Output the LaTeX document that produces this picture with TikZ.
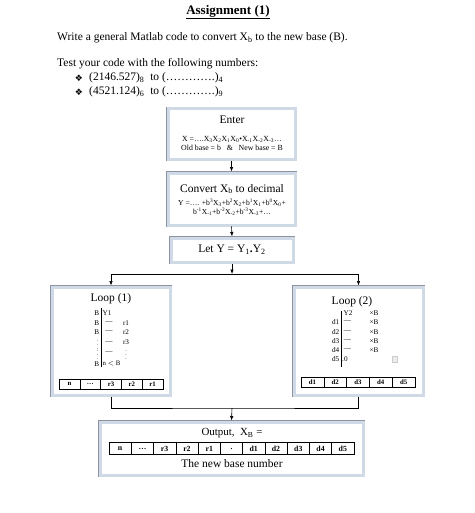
\documentclass[tikz,border=0pt]{standalone}
\usepackage{fontspec}
\setmainfont{Liberation Serif}
\newfontfamily\symfont{DejaVu Sans}
\usetikzlibrary{arrows.meta}
\definecolor{frameC}{RGB}{208,218,230}
\definecolor{frameD}{RGB}{140,148,162}
\newcommand{\fs}[1]{\fontsize{#1}{#1}\selectfont}
\tikzset{
  frame/.style={draw=frameC, line width=3pt, fill=white,
    preaction={draw=frameD, line width=4pt}, inner sep=0pt},
  conn/.style={line width=0.6pt},
  arr/.style={conn, -{Latex[length=4.5pt,width=3.5pt]}},
  cell/.style={draw, line width=0.6pt, inner sep=0pt, minimum height=10pt,
    font=\bfseries\fs{6.8}},
  ocell/.style={draw, line width=0.6pt, inner sep=0pt, minimum height=12.5pt,
    minimum width=22.27pt, font=\bfseries\fs{7.8}},
  txt/.style={inner sep=0pt},
  big/.style={txt, font=\fs{11.5}},
  small/.style={txt, font=\fs{7.8}},
  tiny/.style={txt, font=\fs{7.6}},
  row/.style={txt, font=\fs{7.2}},
  vd/.style={txt, font=\fs{5.5}},
}
\begin{document}
\begin{tikzpicture}[x=1pt,y=-1pt]
\useasboundingbox (0,0) rectangle (474,513);
% header
\node[txt, font=\bfseries\fs{13}] (title) at (228,12) {\underline{Assignment (1)}};
\node[big, anchor=west] (l1) at (57,38) {Write a general Matlab code to convert X\textsubscript{b} to the new base (B).};
\node[big, anchor=west] (l2) at (57,64) {Test your code with the following numbers:};
\node[txt, font=\symfont\fs{9}] (b1) at (79,78) {❖};
\node[big, anchor=west] (l3) at (89,78) {(2146.527)\textsubscript{8}\ \ to (………….)\textsubscript{4}};
\node[txt, font=\symfont\fs{9}] (b2) at (79,92) {❖};
\node[big, anchor=west] (l4) at (89,92) {(4521.124)\textsubscript{6}\ \ to (………….)\textsubscript{9}};

% boxes
\node[frame, minimum width=127pt, minimum height=50pt] (enter) at (231.5,134) {};
\node[frame, minimum width=127pt, minimum height=52pt] (conv) at (231.5,199) {};
\node[frame, minimum width=122pt, minimum height=24pt] (let) at (232,250) {};
\node[frame, minimum width=118pt, minimum height=108pt] (loopa) at (111,341) {};
\node[frame, minimum width=129pt, minimum height=108pt] (loopb) at (358.5,341) {};
\node[frame, minimum width=263pt, minimum height=53pt] (out) at (231.5,448.5) {};

% Enter texts
\node[big] (et) at (232,120) {Enter};
\node[small] (ex) at (232,139) {X =….X\textsubscript{3}X\textsubscript{2}X\textsubscript{1}X\textsubscript{0}•X\textsubscript{-1}X\textsubscript{-2}X\textsubscript{-3}…};
\node[small] (eb) at (232,148) {Old base = b\ \ \ \&\ \ \ New base = B};

% Convert texts
\node[big] (ct) at (232,189) {Convert X\textsubscript{b} to decimal};
\node[tiny] (cy) at (232,202.5) {Y =…. +b\textsuperscript{3}X\textsubscript{3}+b\textsuperscript{2}X\textsubscript{2}+b\textsuperscript{1}X\textsubscript{1}+b\textsuperscript{0}X\textsubscript{0}+};
\node[tiny] (cz) at (232,211.5) {b\textsuperscript{-1}X\textsubscript{-1}+b\textsuperscript{-2}X\textsubscript{-2}+b\textsuperscript{-3}X\textsubscript{-3}+…};

% Let text
\node[big] (lt) at (232,250) {Let Y = Y\textsubscript{1}\textbf{.}Y\textsubscript{2}};

% Loop (1)
\node[big] (la) at (111,299) {Loop (1)};
\draw[line width=0.5pt] (101,308) -- (101,367);
\node[row, anchor=east] (ba1) at (99.5,313) {B};
\node[row, anchor=east] (ba2) at (99.5,323) {B};
\node[row, anchor=east] (ba3) at (99.5,332) {B};
\node[vd] (ba4) at (97.5,342.5) {$\vdots$};
\node[vd] (ba5) at (97.5,352.5) {$\vdots$};
\node[row, anchor=east] (ba6) at (99.5,364) {B};
\node[row, anchor=west] (ya) at (102.5,313) {Y1};
\foreach \yy/\i in {323/1,332/2,343/3,353/4} \node[row] (da\i) at (109,\yy) {—};
\node[row] (ra1) at (126,323) {r1};
\node[row] (ra2) at (126,332) {r2};
\node[row] (ra3) at (126,342) {r3};
\node[vd] (ra4) at (126,352.5) {$\vdots$};
\node[txt, font=\fs{6.8}, anchor=west] (na) at (102.5,364) {n $<$ B};
\foreach \t [count=\i] in {n,…,r3,r2,r1}
  \node[cell, minimum width=20.8pt] (ca\i) at ({59+20.8*(\i-0.5)},384) {\t};

% Loop (2)
\node[big] (lb) at (352,302) {Loop (2)};
\draw[line width=0.5pt] (341,311) -- (341,367);
\node[row, anchor=west] (yb) at (343.5,313) {Y2};
\foreach \yy/\i in {313/0,322/1,332/2,341/3,350/4} \node[row] (xb\i) at (374,\yy) {×B};
\foreach \yy/\i in {322/1,332/2,341/3,350/4} {
  \node[row, anchor=east] (db\i) at (339.5,\yy) {d\i};
  \node[row] (mb\i) at (347.5,\yy) {—};
}
\node[row, anchor=east] (db5) at (339.5,359) {d5};
\node[row, anchor=west] (zb) at (342,359) {.0};
\node[draw=gray!40, fill=gray!15, line width=0.3pt, minimum width=5pt, minimum height=6pt, inner sep=0pt] (icon) at (395,359) {};
\foreach \t [count=\i] in {d1,d2,d3,d4,d5}
  \node[cell, minimum width=22.8pt] (cb\i) at ({301+22.8*(\i-0.5)},382) {\t};

% Output
\node[txt, font=\fs{10.9}] (ot) at (232,433) {Output,\ \ X\textsubscript{B} =};
\foreach \t [count=\i] in {n,…,r3,r2,r1,.,d1,d2,d3,d4,d5}
  \node[ocell] (co\i) at ({109+22.27*(\i-0.5)},448.5) {\t};
\node[txt, font=\fs{11.5}] (on) at (232,464) {The new base number};

% connectors
\coordinate (j1) at (232,274);
\coordinate (j2) at (232,408);
\draw[arr] (enter.south) -- (conv.north);
\draw[arr] (conv.south) -- (let.north);
\draw[arr] (let.south) -- (j1);
\draw[arr] (j1) -| (loopa.north);
\draw[arr] (j1) -| (loopb.north);
\draw[conn] (loopa.south) |- (j2) -| (loopb.south);
\draw[arr] (j2) -- (out.north);
\end{tikzpicture}
\end{document}
